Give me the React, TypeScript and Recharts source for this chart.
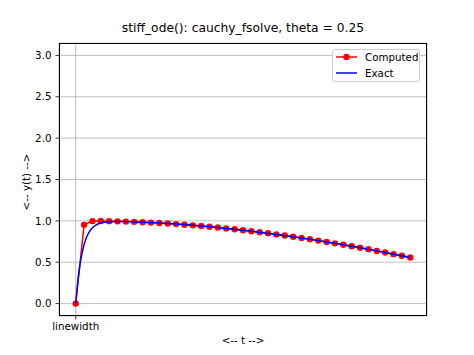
import React from 'react';
import { LineChart, Line, XAxis, YAxis, CartesianGrid } from 'recharts';

const computedT = [0, 0.025, 0.05, 0.075, 0.1, 0.125, 0.15, 0.175, 0.2, 0.225, 0.25, 0.275, 0.3, 0.325, 0.35, 0.375, 0.4, 0.425, 0.45, 0.475, 0.5, 0.525, 0.55, 0.575, 0.6, 0.625, 0.65, 0.675, 0.7, 0.725, 0.75, 0.775, 0.8, 0.825, 0.85, 0.875, 0.9, 0.925, 0.95, 0.975, 1.0];
const computedY = [0, 0.952, 0.997, 0.9983, 0.9966, 0.9943, 0.9914, 0.9878, 0.9837, 0.9789, 0.9734, 0.9674, 0.9609, 0.9537, 0.9459, 0.9374, 0.9285, 0.9189, 0.9088, 0.898, 0.8868, 0.875, 0.8626, 0.8498, 0.8363, 0.8223, 0.8079, 0.793, 0.7774, 0.7615, 0.745, 0.7281, 0.7107, 0.693, 0.6747, 0.656, 0.6371, 0.6176, 0.5977, 0.5775, 0.5569];

const exactT = [0, 0.005, 0.01, 0.015, 0.02, 0.03, 0.04, 0.05, 0.06, 0.07, 0.08, 0.1, 0.125, 0.15, 0.2, 0.25, 0.3, 0.35, 0.4, 0.45, 0.5, 0.55, 0.6, 0.65, 0.7, 0.75, 0.8, 0.85, 0.9, 0.95, 1.0];
const exactY = [0, 0.2212, 0.3935, 0.5276, 0.6321, 0.7767, 0.8643, 0.9173, 0.9492, 0.9684, 0.9797, 0.9899, 0.9924, 0.9908, 0.9837, 0.9734, 0.9609, 0.9459, 0.9285, 0.9088, 0.8868, 0.8626, 0.8363, 0.8079, 0.7774, 0.745, 0.7107, 0.6747, 0.6371, 0.5977, 0.5569];

const yTicks = [0, 0.5, 1.0, 1.5, 2.0, 2.5, 3.0];
const xTicks = [0];
const xTickLabels = ['linewidth'];

const computedData = computedT.map((t, i) => ({ t, y: computedY[i] }));
const exactData = exactT.map((t, i) => ({ t, y: exactY[i] }));

const FONT = 'DejaVu Sans, sans-serif';
const MARGIN = { top: 43, right: 47, bottom: 0, left: 0 };

export default function App() {
  return (
    <div style={{ position: 'absolute', left: 0, top: 0, width: 474, height: 355, background: '#fff', fontFamily: FONT }}>
      <div style={{ position: 'absolute', left: 0, top: 0 }}>
        <LineChart width={474} height={355} margin={MARGIN}>
          <CartesianGrid stroke="#b0b0b0" strokeWidth={0.8} horizontal vertical />
          <XAxis
            type="number"
            dataKey="t"
            domain={[-0.05, 1.05]}
            ticks={xTicks}
            tickFormatter={(v: number) => xTickLabels[xTicks.indexOf(v)] ?? ''}
            height={39}
            axisLine={false}
            tickLine={{ stroke: '#000', strokeWidth: 0.8 }}
            tickSize={3.5}
            tickMargin={3}
            tick={{ fill: '#000', fontSize: 10.3, fontFamily: FONT }}
            allowDataOverflow
          />
          <YAxis
            type="number"
            dataKey="y"
            domain={[-0.15, 3.15]}
            ticks={yTicks}
            tickFormatter={(v: number) => v.toFixed(1)}
            width={59}
            axisLine={false}
            tickLine={{ stroke: '#000', strokeWidth: 0.8 }}
            tickSize={3.5}
            tickMargin={4}
            tick={{ fill: '#000', fontSize: 10.3, fontFamily: FONT }}
            allowDataOverflow
          />
          <Line
            data={computedData}
            dataKey="y"
            stroke="#ff0000"
            strokeWidth={1.5}
            dot={{ r: 3.2, fill: '#ff0000', stroke: '#ff0000', strokeWidth: 0 }}
            isAnimationActive={false}
            type="linear"
          />
        </LineChart>
      </div>
      {/* overlay chart so the exact line sits above the computed markers */}
      <div style={{ position: 'absolute', left: 0, top: 0, pointerEvents: 'none' }}>
        <LineChart width={474} height={355} margin={MARGIN}>
          <XAxis
            type="number"
            dataKey="t"
            domain={[-0.05, 1.05]}
            ticks={xTicks}
            height={39}
            axisLine={false}
            tickLine={false}
            tick={false}
            allowDataOverflow
          />
          <YAxis
            type="number"
            dataKey="y"
            domain={[-0.15, 3.15]}
            ticks={yTicks}
            width={59}
            axisLine={false}
            tickLine={false}
            tick={false}
            allowDataOverflow
          />
          <Line
            data={exactData}
            dataKey="y"
            stroke="#0000ff"
            strokeWidth={1.5}
            dot={false}
            isAnimationActive={false}
            type="monotone"
          />
        </LineChart>
      </div>
      {/* plot frame */}
      <div style={{ position: 'absolute', left: 59, top: 43, width: 368, height: 273, border: '0.8px solid #000', boxSizing: 'border-box', pointerEvents: 'none' }} />
      {/* title */}
      <div style={{ position: 'absolute', left: 0, width: 486, top: 21, textAlign: 'center', fontSize: 12.3, color: '#000', whiteSpace: 'nowrap' }}>
        stiff_ode(): cauchy_fsolve, theta = 0.25
      </div>
      {/* x label */}
      <div style={{ position: 'absolute', left: 0, width: 486, top: 334, textAlign: 'center', fontSize: 10.3, color: '#000', whiteSpace: 'nowrap' }}>
        {'<-- t -->'}
      </div>
      {/* y label */}
      <div style={{ position: 'absolute', left: 26, top: 182, width: 0, height: 0 }}>
        <div style={{ position: 'absolute', transform: 'translate(-50%, -50%) rotate(-90deg)', fontSize: 10.3, color: '#000', whiteSpace: 'nowrap' }}>
          {'<-- y(t) -->'}
        </div>
      </div>
      {/* legend */}
      <div style={{ position: 'absolute', left: 332, top: 49, width: 88, height: 33, border: '0.8px solid #cccccc', borderRadius: 3, background: 'rgba(255,255,255,0.8)', boxSizing: 'border-box', fontSize: 10.3, color: '#000' }}>
        <svg width={24} height={33} style={{ position: 'absolute', left: 1, top: 0 }}>
          <line x1={2} x2={23} y1={7} y2={7} stroke="#ff0000" strokeWidth={1.5} />
          <circle cx={12.5} cy={7} r={3.2} fill="#ff0000" />
          <line x1={2} x2={23} y1={23} y2={23} stroke="#0000ff" strokeWidth={1.5} />
        </svg>
        <div style={{ position: 'absolute', left: 32, top: 0, lineHeight: '14px' }}>Computed</div>
        <div style={{ position: 'absolute', left: 32, top: 16, lineHeight: '14px' }}>Exact</div>
      </div>
    </div>
  );
}
